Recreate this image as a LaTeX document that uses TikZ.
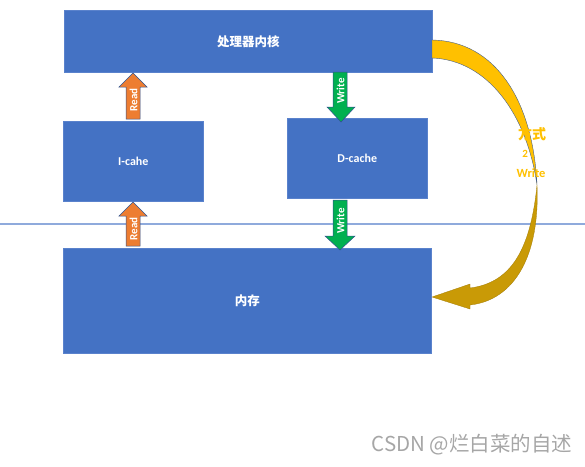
\documentclass[tikz,border=0pt]{standalone}
\usepackage{fontspec}
\setmainfont{Carlito}
\newfontfamily\cjk{Noto Sans CJK SC}
\definecolor{boxblue}{HTML}{4472C4}
\definecolor{boxedge}{HTML}{5A82CC}
\definecolor{rdorange}{HTML}{ED7D31}
\definecolor{wrgreen}{HTML}{00B050}
\definecolor{arrowedge}{HTML}{2F528F}
\definecolor{gold}{HTML}{FFC000}
\definecolor{darkgold}{HTML}{C99A06}
\definecolor{sepline}{HTML}{8FAADC}
\definecolor{wmgray}{HTML}{A6A6A6}
\begin{document}
\begin{tikzpicture}[x=1pt,y=-1pt,
  blk/.style={fill=boxblue, draw=boxedge, line width=0.6pt, inner sep=0pt, anchor=north west,
    text=white, font=\bfseries\fontsize{12}{14}\selectfont},
  cjkbox/.style={blk, font=\cjk\bfseries\fontsize{12.5}{14}\selectfont},
  readarr/.style={fill=rdorange, draw=arrowedge, line width=0.5pt},
  writearr/.style={fill=wrgreen, draw=arrowedge, line width=0.5pt},
  arrtext/.style={text=white, rotate=90, inner sep=0pt, font=\bfseries\fontsize{11}{12}\selectfont}]
\useasboundingbox (0,0) rectangle (585,466);

% separator line
\draw[sepline, line width=1.2pt] (0,224) -- (585,224);

% boxes
\node[cjkbox, minimum width=368pt, minimum height=62pt] (core) at (64,10) {处理器内核};
\node[blk, minimum width=140pt, minimum height=80pt] (icache) at (63,121) {I-cahe};
\node[blk, minimum width=140pt, minimum height=80pt] (dcache) at (287,118) {D-cache};
\node[cjkbox, minimum width=368pt, minimum height=105pt] (mem) at (63,248) {内存};

% Read arrow: icache -> core
\path[readarr] (133,73) -- (147,87) -- (140,87) -- (140,119) -- (126,119) -- (126,87) -- (119,87) -- cycle;
\node[arrtext] (r1) at (133.5,100) {Read};
% Write arrow: core -> dcache
\path[writearr] (333,72) -- (347,72) -- (347,107) -- (355,107) -- (341,122) -- (327,107) -- (333,107) -- cycle;
\node[arrtext] (w1) at (340.5,91) {Write};
% Read arrow: mem -> icache
\path[readarr] (133,202) -- (147,216) -- (140,216) -- (140,246) -- (126,246) -- (126,216) -- (119,216) -- cycle;
\node[arrtext] (r2) at (133.5,229) {Read};
% Write arrow: dcache -> mem
\path[writearr] (333,200) -- (347,200) -- (347,236) -- (355,236) -- (340,250) -- (325,236) -- (333,236) -- cycle;
\node[arrtext] (w2) at (340.5,221) {Write};

% curved arrow (方式2 Write)
\path[fill=gold, draw=arrowedge!70!gray, line width=0.4pt]
  (432,40) .. controls (495,41) and (533,100) .. (537,185)
  .. controls (527,115) and (488,60) .. (432,58) -- cycle;
\path[fill=darkgold, draw=darkgold!80!black, line width=0.3pt]
  (537,185) .. controls (540,255) and (515,300) .. (470,305)
  -- (470,309) -- (432,297) -- (470,284) -- (470,288)
  .. controls (508,283) and (530,255) .. (537,185) -- cycle;

\node[text=gold, inner sep=0pt, font=\cjk\bfseries\fontsize{14}{16}\selectfont] (fs) at (532,134) {方式};
\node[text=gold, inner sep=0pt, font=\bfseries\fontsize{11}{12}\selectfont] (fs2) at (528,154) {2 :};
\node[text=gold, inner sep=0pt, font=\bfseries\fontsize{12.5}{14}\selectfont] (fs3) at (531,173) {Write};

% watermark
\node[text=wmgray, inner sep=0pt, font=\cjk\fontsize{20.5}{22}\selectfont] (wm) at (472,445) {CSDN @烂白菜的自述};
\end{tikzpicture}
\end{document}
